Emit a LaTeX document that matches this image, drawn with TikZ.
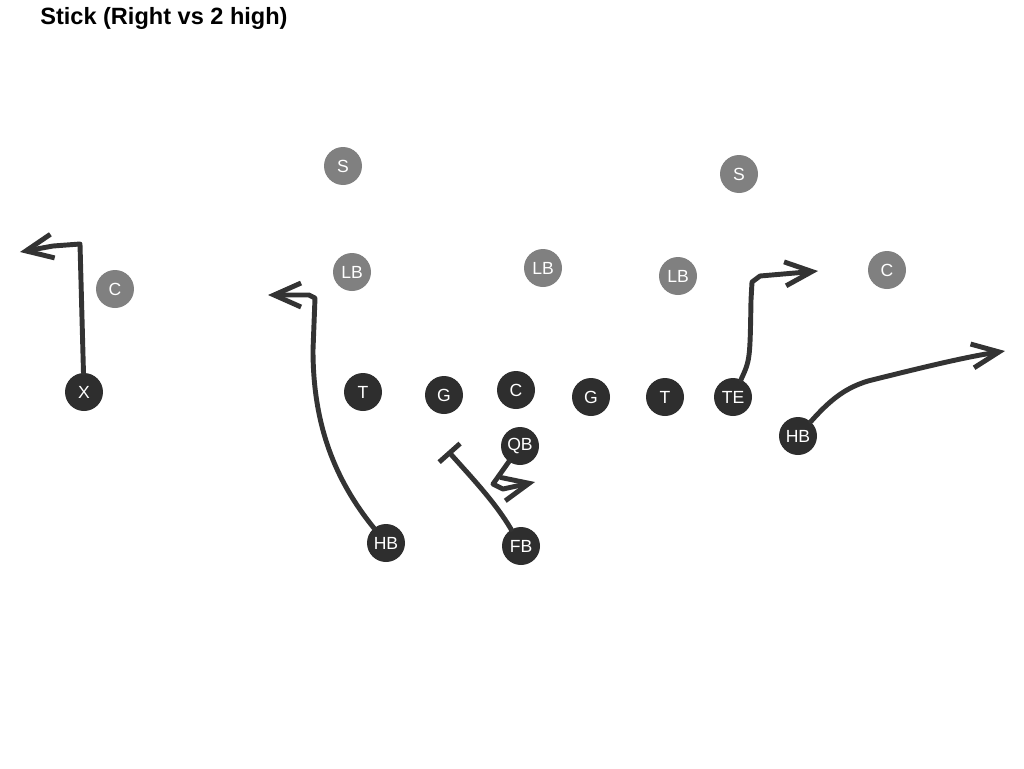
\documentclass[tikz,border=0pt]{standalone}
\usepackage{fontspec}
\setmainfont{Liberation Sans}
\usetikzlibrary{arrows.meta}
\definecolor{offense}{HTML}{2E2E2E}
\definecolor{defense}{HTML}{808080}
\definecolor{routeink}{HTML}{333333}
\tikzset{
  player/.style={circle, fill=offense, text=white, minimum size=0.76cm, inner sep=0pt, font=\fontsize{10}{10}\selectfont},
  defender/.style={player, fill=defense},
  route/.style={draw=routeink, line width=2.8pt, line cap=round, line join=round, -{Straight Barb[length=5.4mm,width=4.8mm]}},
  block/.style={route, -{Bar[width=5.6mm]}}
}
\begin{document}
\begin{tikzpicture}[x=0.02cm, y=-0.02cm]
    \useasboundingbox (0,0) rectangle (1024,768);
    \node[anchor=base west, inner sep=0pt, font=\bfseries\fontsize{13.4}{16}\selectfont] (title) at (40,24) {Stick (Right vs 2 high)};

    % defense
    \node[defender] (ss) at (343,166) {S};
    \node[defender] (fs) at (739,174) {S};
    \node[defender] (wlb) at (352,272) {LB};
    \node[defender] (mlb) at (543,268) {LB};
    \node[defender] (slb) at (678,276) {LB};
    \node[defender] (lcb) at (115,289) {C};
    \node[defender] (rcb) at (887,270) {C};

    % offensive line
    \foreach \x/\y/\name/\label in {363/392/lt/T, 444/395/lg/G, 516/390/ctr/C, 591/397/rg/G, 665/397/rt/T, 733/397/te/TE} {
      \node[player] (\name) at (\x,\y) {\label};
    }
    \node[player] (x) at (84,392) {X};
    \node[player] (qb) at (520,446) {QB};
    \node[player] (hbr) at (798,436) {HB};
    \node[player] (hbl) at (386,543) {HB};
    \node[player] (fb) at (521,546) {FB};

    % route ends
    \coordinate (xtip) at (20,252);
    \coordinate (hbltip) at (268,295);
    \coordinate (qbtip) at (535,482);
    \coordinate (fbend) at (448,451);
    \coordinate (tetip) at (818,271);
    \coordinate (hbrtip) at (1005,351);

    % routes
    \draw[route] (x) -- (80,244) -- (53,246) -- (xtip);
    \draw[route] (hbl) .. controls (335,480) and (313,425) .. (313,350) -- (315,298) -- (309,295) -- (hbltip);
    \draw[route] (qb) -- (493,484) -- (503,489) -- (qbtip);
    \draw[block] (fb) .. controls (495,502) and (472,478) .. (fbend);
    \draw[route] (te) .. controls (750,360) .. (751,300) -- (752,282) -- (760,276) -- (tetip);
    \draw[route] (hbr) .. controls (830,400) and (845,388) .. (868,381) .. controls (920,368) and (965,357) .. (hbrtip);
\end{tikzpicture}
\end{document}
